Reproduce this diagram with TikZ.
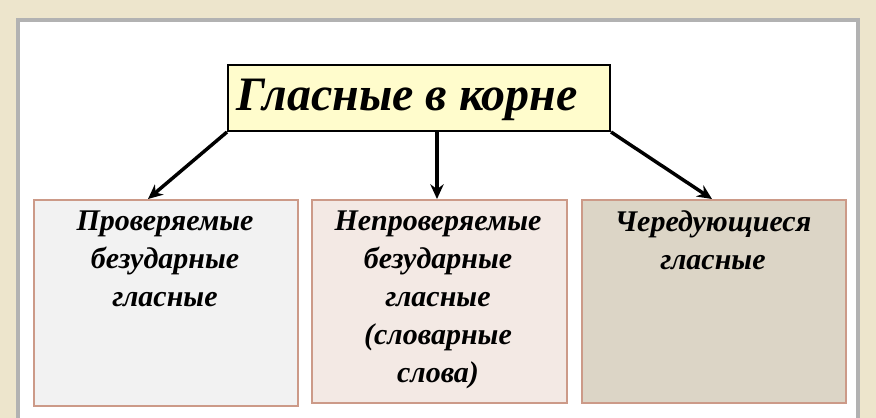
\documentclass[tikz,border=0pt]{standalone}
\usepackage{fontspec}
\usetikzlibrary{arrows.meta}
\setmainfont{Liberation Serif}
\begin{document}
\begin{tikzpicture}[x=0.75pt,y=-0.75pt,
  box/.style={draw=boxborder,line width=1.5pt,anchor=north west,align=center,inner sep=0pt,
    font=\fontsize{22.5}{28.5}\selectfont\bfseries\itshape},
  arr/.style={-{Stealth[length=11pt,width=10pt]},line width=2.6pt,black}]
\definecolor{bg}{HTML}{EDE5CC}
\definecolor{boxborder}{HTML}{CC9A88}
\useasboundingbox (0,0) rectangle (876,418);
\fill[bg] (0,0) rectangle (876,418);
\draw[draw=gray!60,line width=3pt,fill=white] (18,20) rectangle (858,425);
\node[draw=black,line width=1.5pt,fill=yellow!20,minimum width=382*0.75pt,minimum height=66*0.75pt] (t) at (419,98) {};
\node[font=\fontsize{36}{40}\selectfont\bfseries\itshape,anchor=west,inner sep=0pt] at (236,100) {Гласные в корне};
\node[box,fill=gray!10,minimum width=264*0.75pt,minimum height=206*0.75pt] (a) at (33,199) {};
\node[box,fill={rgb,255:red,243;green,233;blue,228},minimum width=255*0.75pt,minimum height=203*0.75pt] (b) at (311,199) {};
\node[box,fill={rgb,255:red,220;green,213;blue,198},minimum width=264*0.75pt,minimum height=203*0.75pt] (c) at (581,199) {};
\node[box,draw=none,anchor=north] at (165,210) {Проверяемые\\безударные\\гласные};
\node[box,draw=none,anchor=north] at (438,210) {Непроверяемые\\безударные\\гласные\\(словарные\\слова)};
\node[box,draw=none,anchor=north] at (713,210) {Чередующиеся\\гласные};
\draw[arr] (t.south west) -- (a.north -| 148,0);
\draw[arr] (t.south -| 437,0) -- (b.north -| 437,0);
\draw[arr] (t.south east) -- (c.north -| 712,0);
\end{tikzpicture}
\end{document}
